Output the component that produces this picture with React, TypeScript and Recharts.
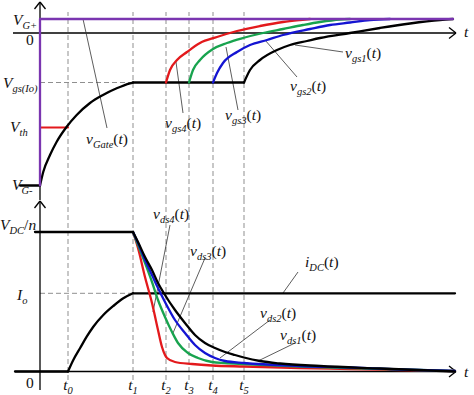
import React from 'react';
import { ComposedChart, Line, XAxis, YAxis, ReferenceLine, Scatter } from 'recharts';

// ---------- time marks ----------
const tMarks = [2.8, 9.3, 12.6, 14.9, 17.3, 20.4];
const tMarkNames = ['0', '1', '2', '3', '4', '5'];

// ---------- upper panel levels ----------
const VG_POS = 18.1;
const AXIS_UP = 16.7;
const VGS_IO = 11.75;
const VTH = 7.25;
const VG_NEG = 1.45;

// ---------- lower panel levels ----------
const VDC_N = 16.3;
const IO = 10.17;
const AXIS_LO = 2.35;

// ---------- upper panel series [t, v] ----------
const vGate = [[0, VG_NEG], [0, VG_POS], [41.3, VG_POS]];
const vgsNeg = [[-2, VG_NEG], [0, VG_NEG]];
const vgsCharge = [[0, 1.45], [0.33, 2.83], [1, 4.5], [1.67, 5.83], [2.67, 7.33], [3.67, 8.5], [5, 9.7], [6.3, 10.5], [7.67, 11.17], [9, 11.67], [9.3, 11.75]];
const vgsPlateau = [[9.3, VGS_IO], [20.4, VGS_IO]];
const vgs1Rise = [[20.4, 11.75], [21, 13], [22, 14], [23.7, 15.0], [25, 15.5], [26.7, 15.9], [28, 16.2], [31, 16.7], [34, 17.2], [37, 17.65], [40, 18.0], [41.3, 18.1]];
const vgs2Rise = [[17.3, 11.75], [17.7, 12.7], [18.3, 13.7], [19.7, 14.8], [21, 15.5], [22.7, 16], [24.3, 16.5], [27, 17.1], [29, 17.5], [31, 17.75], [33, 18], [35, 18.1]];
const vgs3Rise = [[14.9, 11.75], [15.3, 13], [16, 14], [17.3, 15.1], [18.7, 15.7], [20.3, 16.2], [22.3, 16.7], [24.3, 17.1], [26.3, 17.5], [28, 17.8], [30, 18.05], [31, 18.1]];
const vgs4Rise = [[12.6, 11.75], [13, 13], [13.7, 14], [14.7, 14.8], [16, 15.7], [17.7, 16.3], [19.7, 16.9], [22, 17.4], [24.3, 17.8], [26, 18.0], [27, 18.1]];
const vthMark = [[0, VTH], [2.8, VTH]];

// ---------- lower panel series [t, v] ----------
const iDCZero = [[-2.5, AXIS_LO], [2.8, AXIS_LO]];
const iDCRamp = [[2.8, 2.35], [3.33, 3.5], [4, 4.67], [4.67, 5.83], [5.33, 6.83], [6.33, 8.0], [7.33, 8.9], [8.33, 9.67], [9.3, 10.17]];
const iDCFlat = [[9.3, IO], [41.5, IO]];
const vdsFlat = [[-0.5, VDC_N], [9.3, VDC_N]];
const vds4 = [[9.3, 16.3], [9.8, 14.7], [10.5, 11.8], [11.2, 9.2], [11.8, 6.5], [12.2, 4.8], [12.5, 4.0], [12.7, 3.7], [13.5, 3.3], [15.2, 3.1], [17.2, 2.95], [20.4, 2.85], [26, 2.7], [31, 2.6], [36, 2.5], [41.5, 2.4]];
const vds3 = [[9.3, 16.3], [9.8, 15.0], [10.5, 13.2], [11.2, 11.3], [11.8, 9.5], [12.5, 7.8], [13.2, 6.3], [13.8, 5.2], [14.8, 4.2], [15.8, 3.7], [17.2, 3.3], [18.5, 3.2], [20.4, 3.1], [26, 2.85], [31, 2.7], [36, 2.55], [41.5, 2.4]];
const vds2 = [[9.3, 16.3], [9.8, 15.2], [10.5, 13.5], [11.2, 12.0], [11.8, 10.7], [12.5, 9.3], [13.5, 7.5], [14.5, 6.2], [15.5, 5.0], [16.5, 4.2], [17.5, 3.7], [18.5, 3.4], [20.4, 3.2], [26, 2.9], [31, 2.75], [36, 2.55], [41.5, 2.4]];
const vds1 = [[9.3, 16.3], [9.8, 15.3], [10.5, 13.8], [11.2, 12.5], [11.8, 11.2], [12.5, 10.0], [13.5, 8.5], [14.5, 7.2], [15.5, 6.0], [16.5, 5.2], [17.5, 4.7], [18.5, 4.3], [19.5, 4.0], [20.4, 3.75], [22, 3.4], [24, 3.15], [28, 2.9], [34, 2.65], [41.5, 2.35]];

// ---------- labels ----------
type Lbl = { t: number; v: number; main: string; sub?: string; tail?: string; upright?: boolean; anchor?: 'start' | 'middle' };

const upperLabels: Lbl[] = [
  { t: -2.7, v: 17.5, main: 'V', sub: 'G+' },
  { t: -1.4, v: 15.5, main: '0', upright: true },
  { t: -3.7, v: 11.2, main: 'V', sub: 'gs(Io)' },
  { t: -3.0, v: 6.8, main: 'V', sub: 'th' },
  { t: -2.8, v: 1.0, main: 'V', sub: 'G-' },
  { t: 4.6, v: 5.6, main: 'v', sub: 'Gate', tail: '(t)' },
  { t: 12.5, v: 7.2, main: 'v', sub: 'gs4', tail: '(t)' },
  { t: 18.5, v: 8.0, main: 'v', sub: 'gs3', tail: '(t)' },
  { t: 25.0, v: 10.9, main: 'v', sub: 'gs2', tail: '(t)' },
  { t: 30.5, v: 14.2, main: 'v', sub: 'gs1', tail: '(t)' },
  { t: 42.4, v: 16.3, main: 't' },
];

const lowerLabels: Lbl[] = [
  { t: -4.0, v: 16.5, main: 'V', sub: 'DC', tail: '/n' },
  { t: -2.3, v: 9.5, main: 'I', sub: 'o' },
  { t: -1.4, v: 0.7, main: '0', upright: true },
  ...tMarks.map((t, i) => ({ t, v: 0.5, main: 't', sub: tMarkNames[i], anchor: 'middle' as const })),
  { t: 11.3, v: 17.6, main: 'v', sub: 'ds4', tail: '(t)' },
  { t: 15.0, v: 13.9, main: 'v', sub: 'ds3', tail: '(t)' },
  { t: 26.5, v: 12.8, main: 'i', sub: 'DC', tail: '(t)' },
  { t: 22.0, v: 7.7, main: 'v', sub: 'ds2', tail: '(t)' },
  { t: 24.0, v: 5.5, main: 'v', sub: 'ds1', tail: '(t)' },
  { t: 42.4, v: 1.8, main: 't' },
];

// leader lines [t1, v1, t2, v2]
const upperLeaders = [
  [4.3, 18.1, 6.7, 7.2],
  [13.6, 13.8, 14.3, 8.7],
  [18.6, 15.3, 19.8, 9.0],
  [22.5, 16.0, 25.7, 12.3],
  [25.5, 15.5, 30.3, 14.8],
];
const lowerLeaders = [
  [13.0, 17.0, 11.3, 8.3],
  [16.5, 13.7, 13.3, 6.2],
  [25.8, 12.3, 24.3, 10.2],
  [23.0, 7.5, 18.0, 3.7],
  [25.5, 5.2, 21.8, 3.4],
];

// ---------- helpers ----------
const FONT = "'Liberation Serif', 'DejaVu Serif', serif";
const pts = (arr: number[][]) => arr.map(([t, v]) => ({ t, v }));
const X_DOMAIN: [number, number] = [-4, 43.4];
const W = 474;

const RED = '#e3191c';
const GREEN = '#18a34e';
const BLUE = '#1414d2';
const PURPLE = '#7a35b0';
const DASH = '#8f8f8f';

function LabelShape(props: any) {
  const { cx, cy, payload } = props;
  const p: Lbl = payload;
  if (cx == null || cy == null) return null;
  const tail = p.tail ?? '';
  const tailParts: React.ReactNode[] = [];
  if (tail === '(t)') {
    tailParts.push(<tspan key="a" dy={p.sub ? -4 : 0} fontStyle="normal">(</tspan>);
    tailParts.push(<tspan key="b" fontStyle="italic">t</tspan>);
    tailParts.push(<tspan key="c" fontStyle="normal">)</tspan>);
  } else if (tail === '/n') {
    tailParts.push(<tspan key="a" dy={p.sub ? -4 : 0} fontStyle="normal">/</tspan>);
    tailParts.push(<tspan key="b" fontStyle="italic">n</tspan>);
  }
  return (
    <text x={cx} y={cy} fontFamily={FONT} fontSize={15.5} fill="#111" textAnchor={p.anchor ?? 'start'}>
      <tspan fontStyle={p.upright ? 'normal' : 'italic'}>{p.main}</tspan>
      {p.sub ? (
        <tspan fontSize={10.5} dy={4} fontStyle="italic">{p.sub}</tspan>
      ) : null}
      {tailParts}
    </text>
  );
}

type Seg = { a: [number, number]; b: [number, number]; stroke: string; width: number; dash?: string };

function Panel({ height, yMax, series, segs, labels }: { height: number; yMax: number; series: { data: number[][]; color: string; width: number; curve: 'linear' | 'monotone' }[]; segs: Seg[]; labels: Lbl[] }) {
  return (
    <ComposedChart width={W} height={height} margin={{ top: 0, right: 0, bottom: 0, left: 0 }}>
      <XAxis type="number" dataKey="t" domain={X_DOMAIN} allowDataOverflow hide />
      <YAxis type="number" dataKey="v" domain={[0, yMax]} allowDataOverflow hide />
      {segs.map((s, i) => (
        <ReferenceLine
          key={'s' + i}
          segment={[{ x: s.a[0], y: s.a[1] }, { x: s.b[0], y: s.b[1] }]}
          stroke={s.stroke}
          strokeWidth={s.width}
          strokeDasharray={s.dash}
          ifOverflow="visible"
        />
      ))}
      {series.map((s, i) => (
        <Line
          key={'l' + i}
          data={pts(s.data)}
          dataKey="v"
          type={s.curve}
          stroke={s.color}
          strokeWidth={s.width}
          dot={false}
          activeDot={false}
          isAnimationActive={false}
          strokeLinecap="round"
          strokeLinejoin="round"
        />
      ))}
      <Scatter data={labels} dataKey="v" shape={<LabelShape />} isAnimationActive={false} />
    </ComposedChart>
  );
}

const CW = 2.3;

export default function App() {
  const upperSegs: Seg[] = [
    ...tMarks.map((t) => ({ a: [t, 0] as [number, number], b: [t, 18.8] as [number, number], stroke: DASH, width: 1, dash: '5 3' })),
    { a: [0, VGS_IO], b: [9.3, VGS_IO], stroke: DASH, width: 1, dash: '5 3' },
    { a: [0, 0], b: [0, 19.8], stroke: '#000', width: 1.3 },
    { a: [-0.55, 19.1], b: [0, 19.8], stroke: '#000', width: 1.3 },
    { a: [0.55, 19.1], b: [0, 19.8], stroke: '#000', width: 1.3 },
    { a: [-2.7, AXIS_UP], b: [41.6, AXIS_UP], stroke: '#000', width: 1.3 },
    { a: [40.9, AXIS_UP + 0.55], b: [41.6, AXIS_UP], stroke: '#000', width: 1.3 },
    { a: [40.9, AXIS_UP - 0.55], b: [41.6, AXIS_UP], stroke: '#000', width: 1.3 },
    ...upperLeaders.map((l) => ({ a: [l[0], l[1]] as [number, number], b: [l[2], l[3]] as [number, number], stroke: '#333', width: 0.8 })),
  ];
  const lowerSegs: Seg[] = [
    ...tMarks.map((t) => ({ a: [t, 1.5] as [number, number], b: [t, 19.5] as [number, number], stroke: DASH, width: 1, dash: '5 3' })),
    { a: [0, IO], b: [9.3, IO], stroke: DASH, width: 1, dash: '5 3' },
    { a: [0, 0.5], b: [0, 19.4], stroke: '#000', width: 1.3 },
    { a: [-0.55, 18.7], b: [0, 19.4], stroke: '#000', width: 1.3 },
    { a: [0.55, 18.7], b: [0, 19.4], stroke: '#000', width: 1.3 },
    { a: [-2.5, AXIS_LO], b: [41.6, AXIS_LO], stroke: '#000', width: 1.3 },
    { a: [40.9, AXIS_LO + 0.55], b: [41.6, AXIS_LO], stroke: '#000', width: 1.3 },
    { a: [40.9, AXIS_LO - 0.55], b: [41.6, AXIS_LO], stroke: '#000', width: 1.3 },
    ...lowerLeaders.map((l) => ({ a: [l[0], l[1]] as [number, number], b: [l[2], l[3]] as [number, number], stroke: '#333', width: 0.8 })),
  ];

  const upperSeries = [
    { data: vthMark, color: RED, width: 2, curve: 'linear' as const },
    { data: vgsNeg, color: '#000', width: CW, curve: 'linear' as const },
    { data: vgsCharge, color: '#000', width: CW, curve: 'monotone' as const },
    { data: vgsPlateau, color: '#000', width: CW, curve: 'linear' as const },
    { data: vgs4Rise, color: RED, width: CW, curve: 'monotone' as const },
    { data: vgs3Rise, color: GREEN, width: CW, curve: 'monotone' as const },
    { data: vgs2Rise, color: BLUE, width: CW, curve: 'monotone' as const },
    { data: vgs1Rise, color: '#000', width: CW, curve: 'monotone' as const },
    { data: vGate, color: PURPLE, width: CW, curve: 'linear' as const },
  ];
  const lowerSeries = [
    { data: iDCZero, color: '#000', width: CW, curve: 'linear' as const },
    { data: iDCRamp, color: '#000', width: CW, curve: 'monotone' as const },
    { data: iDCFlat, color: '#000', width: CW, curve: 'linear' as const },
    { data: vds4, color: RED, width: CW, curve: 'monotone' as const },
    { data: vds3, color: GREEN, width: CW, curve: 'monotone' as const },
    { data: vds2, color: BLUE, width: CW, curve: 'monotone' as const },
    { data: vdsFlat, color: '#000', width: CW, curve: 'linear' as const },
    { data: vds1, color: '#000', width: CW, curve: 'monotone' as const },
  ];

  return (
    <div style={{ position: 'absolute', left: 0, top: 0, width: W, height: 395, background: '#fff' }}>
      <Panel height={200} yMax={20} series={upperSeries} segs={upperSegs} labels={upperLabels} />
      <Panel height={195} yMax={19.5} series={lowerSeries} segs={lowerSegs} labels={lowerLabels} />
    </div>
  );
}
